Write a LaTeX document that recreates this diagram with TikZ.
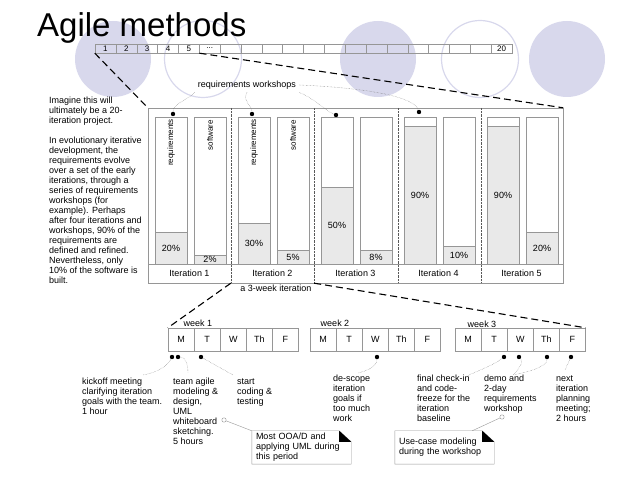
\documentclass[tikz,border=0pt]{standalone}
\usepackage{fontspec}
\setmainfont{Liberation Sans}
\usetikzlibrary{positioning,calc}
\definecolor{lav}{RGB}{216,216,236}
\definecolor{barfill}{RGB}{233,233,233}
\definecolor{edge}{RGB}{150,150,150}
\begin{document}
\begin{tikzpicture}[x=1pt, y=-1pt, every node/.style={font=\fontsize{9}{10}\selectfont, inner sep=0pt},
  cellbox/.style={draw=edge, minimum width=20.85pt, minimum height=9pt},
  barbox/.style={draw=edge, minimum width=32pt, minimum height=147pt},
  daybox/.style={draw=edge, minimum width=26.1pt, minimum height=23pt},
  blackdot/.style={circle, fill=black, minimum size=4.4pt},
  opendot/.style={circle, draw=edge, fill=white, minimum size=4.4pt},
  notetext/.style={align=left, anchor=north west},
  dotline/.style={densely dotted, gray!85!black},
  bigdash/.style={dash pattern=on 7pt off 4pt, line width=1.1pt},
  small/.style={font=\fontsize{8}{8}\selectfont}]
  \useasboundingbox (0,0) rectangle (638,478);
  % backdrop circles and title
  \fill[lav] (113,59) circle (38pt); \draw[lav, line width=1.2pt] (203,59) circle (38.5pt);
  \fill[lav] (378,59) circle (38pt); \draw[lav, line width=1.2pt] (480,59) circle (38.5pt);
  \fill[lav] (567,59) circle (38pt);
  \node[font=\fontsize{33}{33}\selectfont, anchor=base west] (title) at (37,37) {Agile methods};
  % the 20 iterations
  \foreach \i in {1,...,20} \node[cellbox] (t\i) at ({95+(\i-0.5)*20.85},48.5) {};
  \foreach \i in {1,...,5} \node[small] (l\i) at (t\i) {\i};
  \node[small] (ldots) at (t6) {...}; \node[small] (l20) at (t20) {20};
  % zoom on five iterations
  \node[draw=edge, minimum width=415pt, minimum height=175pt] (panel) at (355.5,195.5) {};
  \draw[edge] (148,264) -- (563,264);
  \foreach \x in {231,314.5,398,481} \draw[densely dotted, gray!70!black] (\x,108) -- (\x,283);
  \foreach \k/\rh/\sh/\rp/\sp in {1/32/9/20/2, 2/41/14/30/5, 3/77/14/50/8, 4/138/18/90/10, 5/138/32/90/20}{
    \pgfmathsetmacro{\xl}{148+(\k-1)*83}
    \node[barbox] (r\k) at (\xl+23,190.5) {}; \node[barbox] (s\k) at (\xl+62,190.5) {};
    \draw[edge, fill=barfill] (\xl+7,264) rectangle ++(32,-\rh); \draw[edge, fill=barfill] (\xl+46,264) rectangle ++(32,-\sh);
    \node (rp\k) at (\xl+23,264-\rh/2) {\rp\%}; \node (sp\k) at (\xl+62,264-\sh/2) {\sp\%};
    \node[minimum width=83pt, minimum height=19pt] (n\k) at (\xl+41.5,273.5) {Iteration \k};
  }
  \foreach \k in {1,2}{
    \node[small, rotate=90, anchor=east] (rq\k) at ($(r\k.north)+(0,2)$) {requirements};
    \node[small, rotate=90, anchor=east] (sw\k) at ($(s\k.north)+(0,3)$) {software};
  }
  % requirements workshops
  \node[blackdot] (w1) at (173,114) {}; \node[blackdot] (w2) at (252,114) {};
  \node[blackdot] (w3) at (336,115) {}; \node[blackdot] (w4) at (419,112) {};
  \node[inner sep=3pt] (rw) at (247,85) {requirements workshops};
  \draw[dotline] (rw.south west) .. controls +(-8,8) and +(0,-10) .. (w1);
  \draw[dotline] (rw.south) .. controls +(-5,8) and +(0,-8) .. (w2);
  \draw[dotline] (rw.south east) .. controls +(15,6) and +(-10,-4) .. (w3);
  \draw[dotline] (rw.east) .. controls +(70,3) and +(-5,-15) .. (w4);
  \draw[bigdash] (t1.south west) -- (panel.north west); \draw[bigdash] (t5.south east) -- (panel.north east);
  \node[notetext] (intro) at (49,97) {Imagine this will\\ultimately be a 20-\\iteration project.\\[9.8pt]In evolutionary iterative\\development, the\\requirements evolve\\over a set of the early\\iterations, through a\\series of requirements\\workshops (for\\example). Perhaps\\after four iterations and\\workshops, 90\% of the\\requirements are\\defined and refined.\\Nevertheless, only\\10\% of the software is\\built.};
  % one 3-week iteration
  \node (wk) at (276,288) {a 3-week iteration};
  \foreach \w/\x in {1/168,2/310,3/455} \foreach \d/\l in {1/M,2/T,3/W,4/Th,5/F} \node[daybox] (d\w\d) at ({\x+(\d-0.5)*26.1},339.5) {\l};
  \node (wk1) at (198,323) {week 1}; \node (wk2) at (335,323) {week 2}; \node (wk3) at (482,324) {week 3};
  \draw[bigdash] (n2.south west) -- (d11.north west); \draw[bigdash] (n2.south east) -- (d35.north east);
  \node[blackdot] (k1) at (172,357) {}; \node[blackdot] (k2) at (178,357) {}; \node[blackdot] (k3) at (201,357) {};
  \node[blackdot] (k4) at (377,357) {}; \node[blackdot] (k5) at (504,357) {}; \node[blackdot] (k6) at (519,357) {};
  \node[blackdot] (k7) at (547,357) {}; \node[blackdot] (k8) at (571,357) {};
  \node[notetext] (a1) at (82,378) {kickoff meeting\\clarifying iteration\\goals with the team.\\1 hour};
  \node[notetext] (a2) at (173,378) {team agile\\modeling \&\\design,\\UML\\whiteboard\\sketching.\\5 hours};
  \node[notetext] (a3) at (237,378) {start\\coding \&\\testing};
  \node[notetext] (a4) at (333,375) {de-scope\\iteration\\goals if\\too much\\work};
  \node[notetext] (a5) at (417,375) {final check-in\\and code-\\freeze for the\\iteration\\baseline};
  \node[notetext] (a6) at (484,375) {demo and\\2-day\\requirements\\workshop};
  \node[notetext] (a7) at (556,375) {next\\iteration\\planning\\meeting;\\2 hours};
  \draw[dotline] (k1) .. controls +(-5,10) and +(12,-2) .. ($(a1.north west)+(61,-3)$);
  \draw[dotline] (k2) .. controls +(8,0) and +(0,-8) .. ($(a2.north west)+(15,-5)$);
  \draw[dotline] (k3) -- ($(a3.north west)+(-4,-3)$);
  \draw[dotline] (k4) .. controls +(0,10) and +(8,-2) .. ($(a4.north west)+(25,-2)$);
  \draw[dotline] (k5) .. controls +(-10,8) and +(10,-5) .. ($(a5.north west)+(50,1)$);
  \draw[dotline] (k6) .. controls +(5,5) and +(5,-5) .. ($(a6.north west)+(29,0)$);
  \draw[dotline] (k7) .. controls +(0,10) and +(15,-3) .. ($(a6.north west)+(29,0)$);
  \draw[dotline] (k8) -- ($(a7.north west)+(9,-5)$);
  % notes with folded corner
  \node[opendot] (o1) at (224,420) {}; \node[opendot] (o2) at (502,417) {};
  \node[align=left, text width=91pt, minimum width=99pt, minimum height=33pt] (nb1) at (301.5,447.5) {Most OOA/D and\\applying UML during\\this period};
  \node[align=left, text width=91pt, minimum width=99pt, minimum height=33pt] (nb2) at (444.5,447.5) {Use-case modeling\\during the workshop};
  \foreach \b in {nb1,nb2}{
    \draw[edge] (\b.north west) -- ($(\b.north east)+(-12,0)$) -- ($(\b.north east)+(0,11)$) -- (\b.south east) -- (\b.south west) -- cycle;
    \fill ($(\b.north east)+(-12,0)$) -- ($(\b.north east)+(-12,11)$) -- ($(\b.north east)+(0,11)$) -- cycle;
  }
  \draw[edge] (o1) -- (nb1.north west); \draw[edge] (o2) -- ($(nb2.north east)+(-22,0)$);
\end{tikzpicture}
\end{document}
